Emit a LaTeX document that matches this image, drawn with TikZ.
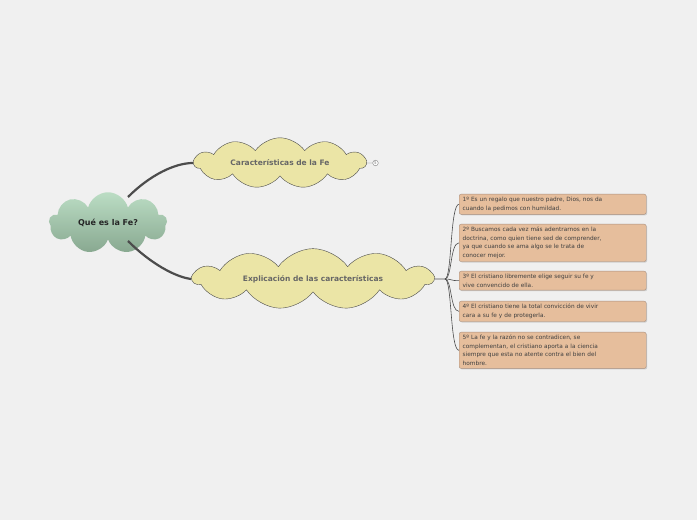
\documentclass[tikz,border=0pt]{standalone}
\usepackage{fontspec}
\setmainfont{DejaVu Sans}
\usetikzlibrary{shapes.symbols,shadows}
\definecolor{bg}{HTML}{F0F0F0}
\definecolor{yel}{HTML}{EBE5A6}
\definecolor{boxc}{HTML}{E6BE9C}
\definecolor{boxe}{HTML}{A89080}
\definecolor{gtop}{HTML}{BBDDC4}
\definecolor{gbot}{HTML}{88A890}
\tikzset{
 x=1pt,y=1pt,
 yc/.style={cloud, cloud puffs=11, cloud puff arc=110, aspect=4.5, draw=black!70, fill=yel, inner sep=0pt, font=\bfseries\fontsize{7.5}{9}\selectfont, text=black!60},
 tbox/.style={draw=boxe, fill=boxc, rounded corners=2pt, minimum width=187pt, text width=180pt, align=left, inner sep=3pt, font=\fontsize{5.8}{8.5}\selectfont, text=black!75, anchor=north west, drop shadow={shadow xshift=1pt,shadow yshift=-1pt,opacity=0.3}},
 conn/.style={draw=black!70, line width=0.6pt},
 main/.style={draw=black!70, line width=2.2pt}
}
\begin{document}
\begin{tikzpicture}
\fill[bg] (0,0) rectangle (697,520);
\useasboundingbox (0,0) rectangle (697,520);
% main connectors
\node[yc, minimum width=172pt, minimum height=38pt] (c1) at (280,357) {Características de la Fe};
\node[yc, minimum width=240pt, minimum height=40pt, aspect=6] (c2) at (313,241) {Explicación de las características};
\node[cloud, cloud puffs=9, aspect=2.4, minimum width=118pt, minimum height=50pt, top color=gtop, bottom color=gbot, draw=none, font=\bfseries\fontsize{8}{10}\selectfont, text=black!85] (m) at (108,297) {Qué es la Fe?};
\draw[main] (128,323) .. controls (150,345) and (175,357) .. (c1.west);
\draw[main] (128,279) .. controls (150,257) and (175,243) .. (c2.west);
\node[draw=black!50, circle, inner sep=0.6pt, font=\fontsize{4}{4}\selectfont, text=black!50, fill=white] (n5) at (375.5,357) {5};
\draw[black!50, line width=0.4pt] (c1.east) -- (n5);
% boxes
\node[tbox] (b1) at (459,326) {1º Es un regalo que nuestro padre, Dios, nos da\\cuando la pedimos con humildad.};
\node[tbox] (b2) at (459,296) {2º Buscamos cada vez más adentrarnos en la\\doctrina, como quien tiene sed de comprender,\\ya que cuando se ama algo se le trata de\\conocer mejor.};
\node[tbox] (b3) at (459,249) {3º El cristiano libremente elige seguir su fe y\\vive convencido de ella.};
\node[tbox] (b4) at (459,219) {4º El cristiano tiene la total convicción de vivir\\cara a su fe y de protegerla.};
\node[tbox] (b5) at (459,188) {5º La fe y la razón no se contradicen, se\\complementan, el cristiano aporta a la ciencia\\siempre que esta no atente contra el bien del\\hombre.};
\coordinate (j) at (445,241);
\draw[conn] (c2.east) -- (j);
\foreach \b in {b1,b2,b3,b4,b5}{
 \draw[conn] (j) .. controls (452,241) and (450,0 |- \b.west) .. (\b.west);
}
\end{tikzpicture}
\end{document}
